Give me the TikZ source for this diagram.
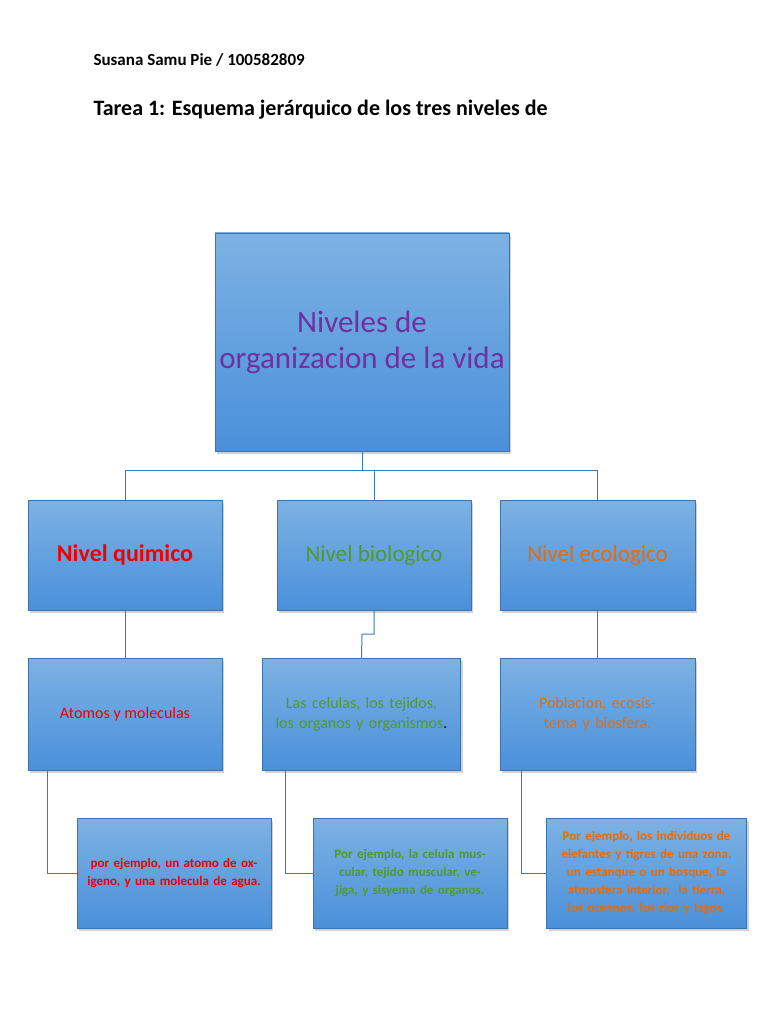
\documentclass[tikz,border=0pt]{standalone}
\usepackage{fontspec}
\setmainfont{Carlito}
\usetikzlibrary{shadows}
\definecolor{bluetop}{HTML}{7DB2E3}
\definecolor{bluebot}{HTML}{4A90DA}
\definecolor{ttpurple}{HTML}{7030A0}
\definecolor{ttred}{HTML}{F00000}
\definecolor{ttgreen}{HTML}{4F9A2C}
\definecolor{ttorange}{HTML}{E36C0A}
\definecolor{linec}{HTML}{3A78C0}
\tikzset{
 bbox/.style={rectangle, top color=bluetop, bottom color=bluebot, draw=bluebot!80!black, line width=0.4pt,
   drop shadow={shadow xshift=2pt,shadow yshift=-3pt,opacity=0.35}, align=center, inner sep=4pt},
 conn/.style={draw=linec, line width=1pt}
}
\begin{document}
\begin{tikzpicture}[x=1pt,y=-1pt]
\useasboundingbox (0,0) rectangle (768,1024);
\fill[white] (0,0) rectangle (768,1024);
\node[anchor=west, font=\bfseries\fontsize{17}{20}\selectfont] (hdr) at (90,60) {Susana Samu Pie / 100582809};
\node[anchor=west, font=\bfseries\fontsize{22}{26}\selectfont] (ttl) at (90,110) {Tarea 1: Esquema jerárquico de los tres niveles de};

\node[bbox, minimum width=294pt, minimum height=218pt, text=ttpurple, font=\fontsize{31}{36}\selectfont] (top) at (362,342) {Niveles de\\organizacion de la vida};

\node[bbox, minimum width=194pt, minimum height=110pt, text=ttred, font=\bfseries\fontsize{24}{28}\selectfont] (q) at (125,555) {Nivel quimico};
\node[bbox, minimum width=194pt, minimum height=110pt, text=ttgreen, font=\fontsize{23}{28}\selectfont] (b) at (374,555) {Nivel biologico};
\node[bbox, minimum width=195pt, minimum height=110pt, text=ttorange, font=\fontsize{23}{28}\selectfont] (e) at (597.5,555) {Nivel ecologico};

\node[bbox, minimum width=194pt, minimum height=112pt, text=ttred, font=\fontsize{16}{20}\selectfont] (q2) at (125,714) {Atomos y moleculas};
\node[bbox, minimum width=195pt, minimum height=112pt, text=ttgreen, font=\fontsize{16}{20}\selectfont, text width=190pt] (b2) at (361.5,714) {Las celulas, los tejidos, los organos y organismos{\color{black}.}};
\node[bbox, minimum width=195pt, minimum height=112pt, text=ttorange, font=\fontsize{16}{20}\selectfont, text width=185pt] (e2) at (597.5,714) {Poblacion, ecosistema y biosfera.};

\node[bbox, minimum width=194pt, minimum height=110pt, text=ttred, font=\bfseries\fontsize{13}{18}\selectfont, text width=184pt] (q3) at (174,873) {por ejemplo, un atomo de oxigeno, y una molecula de agua.};
\node[bbox, minimum width=194pt, minimum height=110pt, text=ttgreen, font=\bfseries\fontsize{13}{18}\selectfont, text width=184pt] (b3) at (410,873) {Por ejemplo, la celula muscular, tejido muscular, vejiga, y sisyema de organos.};
\node[bbox, minimum width=195pt, minimum height=110pt, text=ttorange, font=\bfseries\fontsize{13}{18}\selectfont, text width=192pt] (e3) at (646.5,873) {Por ejemplo, los individuos de elefantes y tigres de una zona, un estanque o un bosque, la atmosfera interior,\ \ la tierra, los oceanos, los rios y lagos.};

\coordinate (hub) at (362,470);
\draw[conn] (top.south) -- (hub);
\draw[conn] (q.north) |- (hub);
\draw[conn] (e.north) |- (hub);
\draw[conn] (b.north) -- (374,470);
\draw[conn] (q.south) -- (q2.north);
\draw[conn] (e.south) -- (e2.north);
\draw[conn] (b.south) -- (374,634) -- (362,634) -- (b2.north);
\draw[conn] (47,770) |- (q3.west);
\draw[conn] (285,770) |- (b3.west);
\draw[conn] (521,770) |- (e3.west);
\end{tikzpicture}
\end{document}
